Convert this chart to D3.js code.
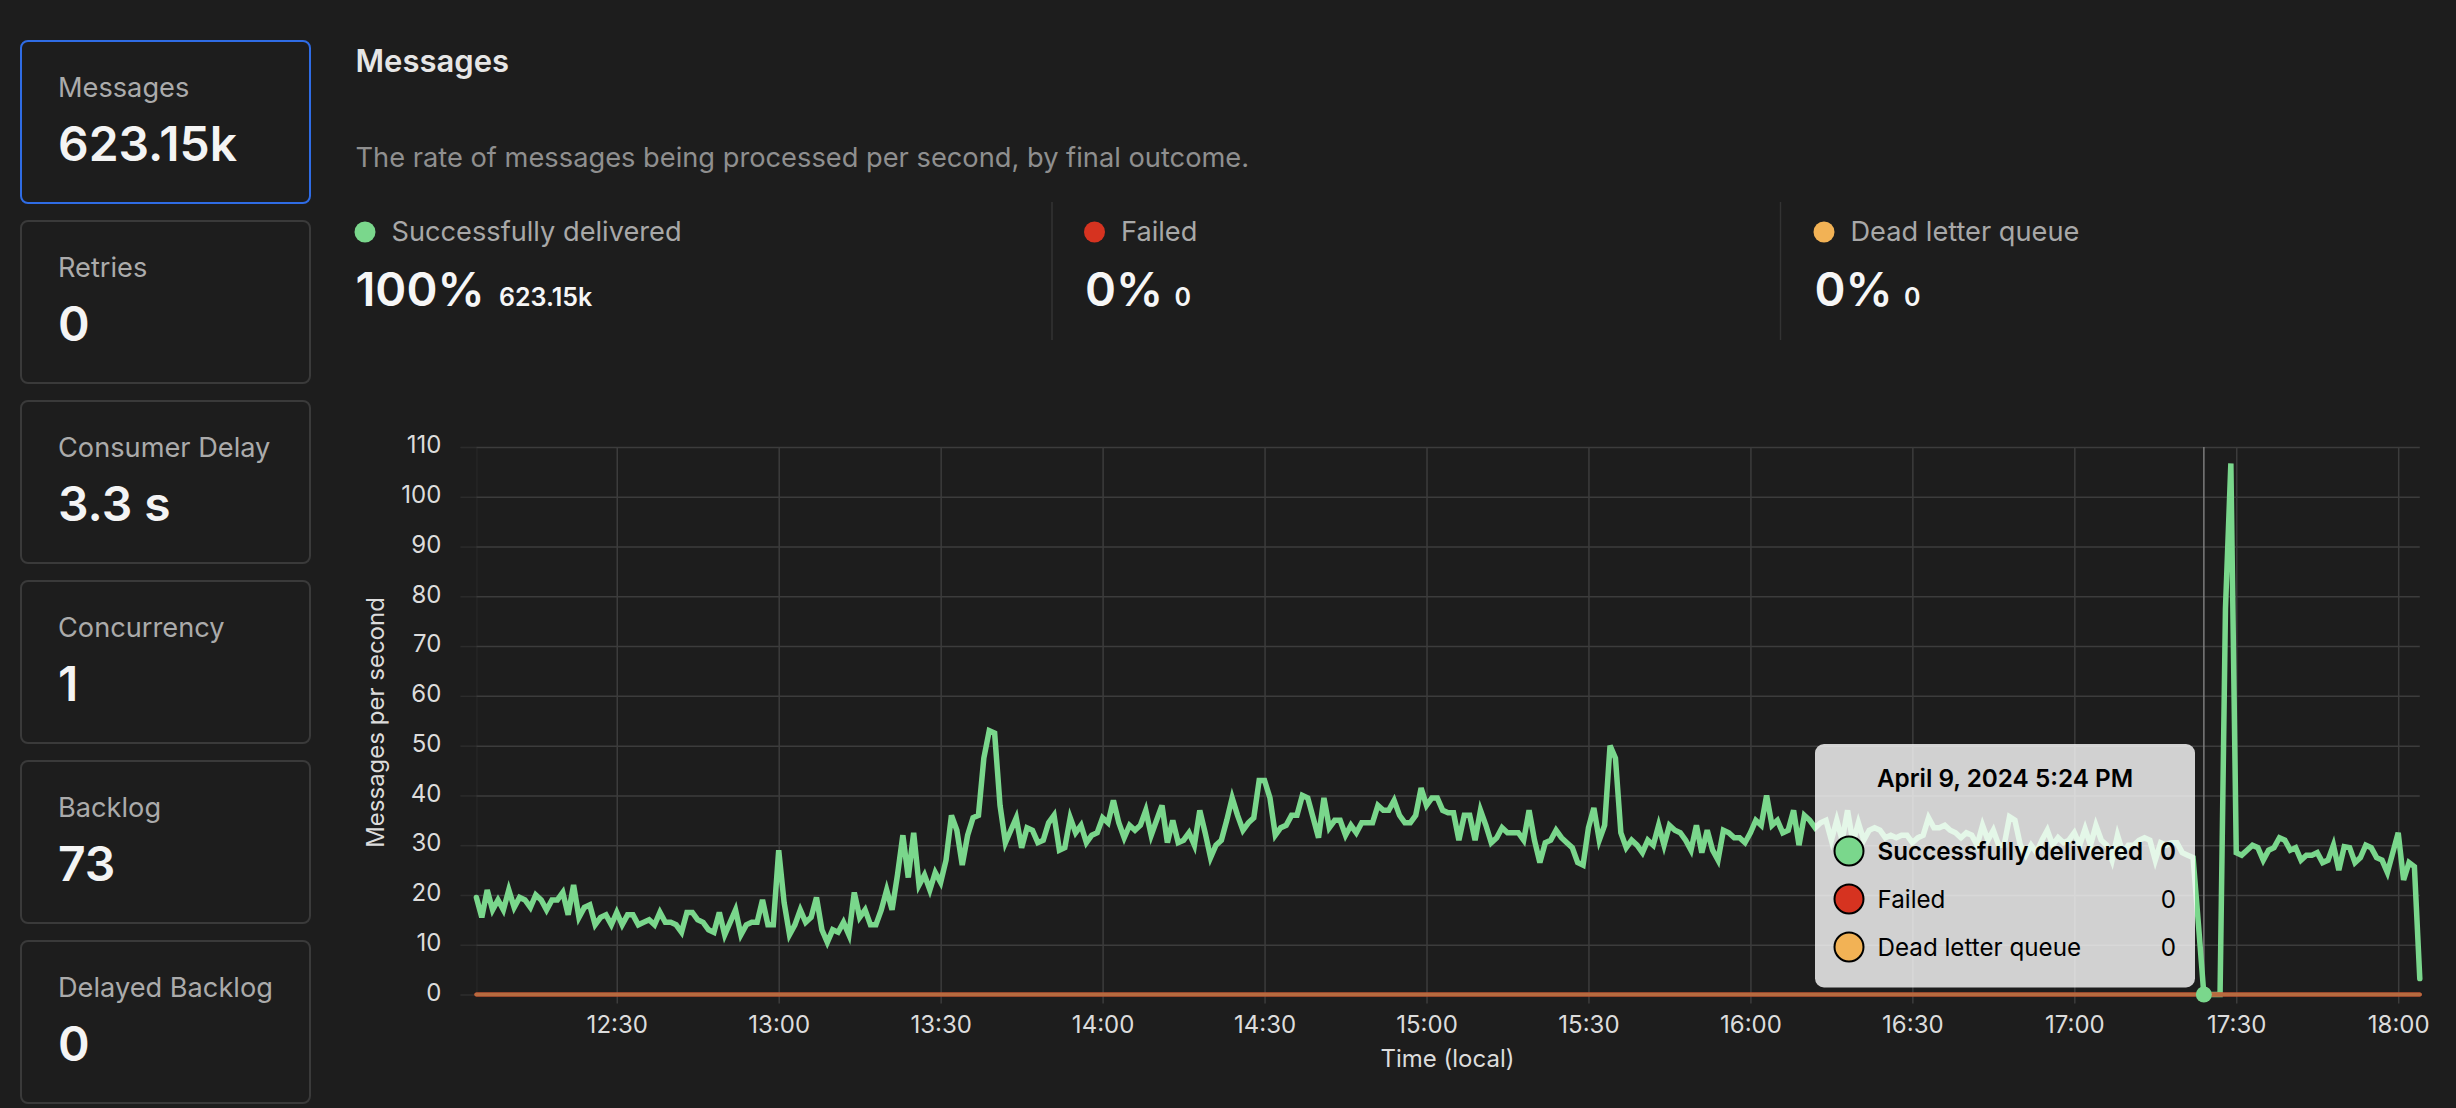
<!DOCTYPE html>
<html>
<head>
<meta charset="utf-8">
<title>Messages</title>
<script src="https://cdn.jsdelivr.net/npm/d3@7"></script>
<style>
  html, body { margin: 0; padding: 0; background: #1d1d1d; }
  svg { display: block; font-family: Inter, "Noto Sans", sans-serif; }
</style>
</head>
<body>
<div id="chart"></div>
<script>
var w = 2456,
    h = 1108;

var cardLabels = ["Messages", "Retries", "Consumer Delay", "Concurrency", "Backlog", "Delayed Backlog"];
var cardValues = ["623.15k", "0", "3.3 s", "1", "73", "0"];

var outcomeLabels = ["Successfully delivered", "Failed", "Dead letter queue"];
var outcomePercents = ["100%", "0%", "0%"];
var outcomeCounts = ["623.15k", "0", "0"];
var outcomeColors = ["#7ad78c", "#d63320", "#f2b255"];
var tooltipValues = ["0", "0", "0"];

var yTicks = [0, 10, 20, 30, 40, 50, 60, 70, 80, 90, 100, 110];

var startTime = new Date(2024, 3, 9, 12, 4),
    endTime = new Date(2024, 3, 9, 18, 4),
    hoverTime = new Date(2024, 3, 9, 17, 24);

// one reading per minute, starting at 12:04
var messageRates = [
  19.5,15.5,21,17,19,17,21,17.5,19.5,19,
  17.5,20,19,17,19,19,20.5,16,22,15.5,
  17.5,18,14,15.5,16,14,16.5,14,16,16,
  14,14.5,15,14,16.5,14.5,14.5,14,12.5,16.5,
  16.5,15,14.5,13,12.5,16.5,12,14.5,17,12,
  14,14.5,14.5,19,14,14,29,18.5,12,14,
  17,14.5,15.5,19.5,13,10.5,13,12.5,14.5,12,
  20.5,15.5,17,14,14,17,21,17,24,32,
  23.5,32.5,22,24,21,24.5,22.5,27,36,33,
  26,32,35.5,36,47.5,53,52.5,38,30.5,33,
  35.5,29.5,33.5,33,30.5,31,34.5,36,29,29.5,
  35.5,32.5,34,30.5,32,32.5,35.5,34.5,39,34.5,
  31.5,34,33,34,37,32,35,38,30.5,35,
  30.5,31,32.5,30,37,32.5,27.5,30,31,35,
  39.5,36,33,34.5,35.5,43,43,39.5,32,33.5,
  34,36,36,40,39.5,35.5,31.5,39.5,33.5,35,
  35,32,34,32.5,34.5,34.5,34.5,38,37,37,
  39,36,34.5,34.5,36,41.5,38,39.5,39.5,37,
  36.5,36.5,31,36,36,31,37,34,30.5,31.5,
  33.5,32.5,32.5,32.5,31,37,31,26.5,30.5,31,
  33,31.5,30.5,29.5,26.5,26,33.5,37.5,31,34,
  50,47.5,32.5,29.5,31,30,28.5,31,30,34,
  30,34,33,32.5,31,29,34,28.5,33,29,
  27,33,32.5,31.5,31.5,30.5,32.5,35,34,40,
  34,35,32.5,33,37,30,36,35,33.5,34.5,
  35,31,35,31,37,30.5,34.5,31,33,33.5,
  33,31.5,32,31.5,32,32,30.5,31.5,32,35.5,
  33.5,33.5,34,33,32.5,31.5,32.5,32,30,34,
  31,33,30,30,35.7,35,30,28,30,28.5,
  31,33,30,31.5,30.5,31,32.5,30,33.3,30,
  34,31,30,27,32,28.5,30,30,31,31.5,
  31,27,30.5,30,30.5,30.5,28.5,28,27.5,14,
  0,0,0,0,77.5,106.7,28.5,28,29,30,
  29.5,27,29,29.5,31.5,31,29,29.5,27,28,
  28,28.5,26.5,27,30,25,29.7,29.5,26.5,27.5,
  30,29.5,27.5,27,24.5,28.5,32.5,23,26.5,25.7,
  3.2
];

// failed and dead letter stay at zero the whole window
var flatTimes = [startTime, endTime];
var failedRates = [0, 0];
var deadLetterRates = [0, 0];

var svg = d3.select("#chart").append("svg")
  .attr("width", w)
  .attr("height", h);

// sidebar cards
var cards = svg.selectAll(".card")
  .data(cardLabels)
  .enter().append("g")
  .attr("class", "card")
  .attr("transform", function(d, i) { return "translate(21," + (41 + i * 180) + ")"; });

cards.append("rect")
  .attr("width", 289)
  .attr("height", 162)
  .attr("rx", 7)
  .attr("fill", "none")
  .attr("stroke", function(d, i) { return i === 0 ? "#2f6ce5" : "#3a3a3a"; })
  .attr("stroke-width", 2);

cards.append("text")
  .attr("x", 37)
  .attr("y", 56)
  .attr("fill", "#ababab")
  .attr("font-size", 27.2)
  .text(function(d) { return d; });

cards.append("text")
  .attr("x", 37)
  .attr("y", 119.5)
  .attr("fill", "#f4f4f4")
  .attr("font-size", 48)
  .attr("font-weight", 600)
  .text(function(d, i) { return cardValues[i]; });

// header
svg.append("text")
  .attr("x", 355.5).attr("y", 71.5)
  .attr("fill", "#e6e6e6")
  .attr("font-size", 31)
  .attr("font-weight", 600)
  .text("Messages");

svg.append("text")
  .attr("x", 355.5).attr("y", 167)
  .attr("fill", "#8f8f8f")
  .attr("font-size", 27.25)
  .text("The rate of messages being processed per second, by final outcome.");

// outcome summary
var outcomeX = [355.5, 1085, 1814.5];

var outcomes = svg.selectAll(".outcome")
  .data(outcomeLabels)
  .enter().append("g")
  .attr("class", "outcome")
  .attr("transform", function(d, i) { return "translate(" + outcomeX[i] + ",0)"; });

outcomes.append("circle")
  .attr("cx", 9.5)
  .attr("cy", 232)
  .attr("r", 10.5)
  .attr("fill", function(d, i) { return outcomeColors[i]; });

outcomes.append("text")
  .attr("x", 36)
  .attr("y", 241)
  .attr("fill", "#a8a8a8")
  .attr("font-size", 27.2)
  .text(function(d) { return d; });

outcomes.append("text")
  .attr("class", "pct")
  .attr("y", 306)
  .attr("fill", "#f6f6f6")
  .attr("font-size", 47)
  .attr("font-weight", 600)
  .text(function(d, i) { return outcomePercents[i]; });

outcomes.append("text")
  .attr("x", function(d, i) { return i === 0 ? 143.5 : 89.5; })
  .attr("y", 306)
  .attr("fill", "#f6f6f6")
  .attr("font-size", 25)
  .attr("font-weight", 600)
  .text(function(d, i) { return outcomeCounts[i]; });

svg.selectAll(".sep")
  .data([1052, 1780.5])
  .enter().append("line")
  .attr("class", "sep")
  .attr("x1", function(d) { return d; })
  .attr("x2", function(d) { return d; })
  .attr("y1", 202)
  .attr("y2", 340)
  .attr("stroke", "#333")
  .attr("stroke-width", 1.5);

// chart
var margin = {left: 476.4, right: 2419.8, top: 447, bottom: 994.5};

var x = d3.scaleTime()
  .domain([startTime, endTime])
  .range([margin.left, margin.right]);

var y = d3.scaleLinear()
  .domain([0, 110])
  .range([margin.bottom, margin.top]);

var xAxis = d3.axisBottom(x)
  .ticks(d3.timeMinute.every(30))
  .tickFormat(d3.timeFormat("%H:%M"))
  .tickSizeOuter(0);

var yAxis = d3.axisLeft(y)
  .tickValues(yTicks)
  .tickSizeOuter(0);

// faint stubs left of the plot, brighter gridlines inside it
svg.append("g")
  .attr("transform", "translate(" + margin.left + ",0)")
  .call(yAxis.tickSize(16).tickPadding(19))
  .call(function(g) {
    g.select(".domain").attr("stroke", "#252525").attr("stroke-width", 1.5);
    g.selectAll(".tick line").attr("stroke", "#2c2c2c").attr("stroke-width", 1.5);
    g.selectAll("text")
      .attr("font-family", "Inter")
      .attr("font-size", 24)
      .attr("fill", "#dcdcdc")
      .attr("dy", "0.24em");
  });

svg.append("g")
  .attr("transform", "translate(" + margin.left + ",0)")
  .call(d3.axisLeft(y).tickValues(yTicks).tickSize(margin.left - margin.right).tickFormat(""))
  .call(function(g) {
    g.select(".domain").remove();
    g.selectAll(".tick line").attr("stroke", "#3c3c3c").attr("stroke-width", 1.5);
  });

svg.append("g")
  .attr("transform", "translate(0," + margin.bottom + ")")
  .call(xAxis.tickSizeInner(9).tickPadding(12))
  .call(function(g) {
    g.select(".domain").remove();
    g.selectAll(".tick line").attr("stroke", "#3c3c3c").attr("stroke-width", 1.5);
    g.selectAll("text")
      .attr("font-family", "Inter")
      .attr("font-size", 24)
      .attr("fill", "#dcdcdc");
  });

svg.append("g")
  .attr("transform", "translate(0," + margin.bottom + ")")
  .call(d3.axisBottom(x).ticks(d3.timeMinute.every(30)).tickSize(margin.top - margin.bottom).tickFormat(""))
  .call(function(g) {
    g.select(".domain").remove();
    g.selectAll(".tick line").attr("stroke", "#3c3c3c").attr("stroke-width", 1.5);
  });

svg.append("text")
  .attr("x", 1447.5).attr("y", 1066.5)
  .attr("text-anchor", "middle")
  .attr("fill", "#dcdcdc")
  .attr("font-size", 24)
  .text("Time (local)");

svg.append("text")
  .attr("transform", "translate(384,722.5) rotate(-90)")
  .attr("text-anchor", "middle")
  .attr("fill", "#dcdcdc")
  .attr("font-size", 24)
  .text("Messages per second");

// hover crosshair
svg.append("line")
  .attr("x1", x(hoverTime)).attr("x2", x(hoverTime))
  .attr("y1", margin.top).attr("y2", margin.bottom)
  .attr("stroke", "#7c7c7c")
  .attr("stroke-width", 1.5);

var line = d3.line()
  .x(function(d) { return x(d.t); })
  .y(function(d) { return y(d.v); });

var rateSeries = messageRates.map(function(v, i) {
  return {t: d3.timeMinute.offset(startTime, i), v: v};
});

function flatSeries(values) {
  return values.map(function(v, i) { return {t: flatTimes[i], v: v}; });
}

svg.append("path")
  .attr("d", line(rateSeries))
  .attr("fill", "none")
  .attr("stroke", outcomeColors[0])
  .attr("stroke-width", 5.5)
  .attr("stroke-linejoin", "miter")
  .attr("stroke-miterlimit", 4)
  .attr("stroke-linecap", "round");

svg.append("path")
  .attr("d", line(flatSeries(failedRates)))
  .attr("fill", "none")
  .attr("stroke", outcomeColors[1])
  .attr("stroke-width", 4)
  .attr("stroke-linecap", "round");

svg.append("path")
  .attr("d", line(flatSeries(deadLetterRates)))
  .attr("fill", "none")
  .attr("stroke", "#b76b3f")
  .attr("stroke-width", 4)
  .attr("stroke-linecap", "round");

svg.append("circle")
  .attr("cx", x(hoverTime))
  .attr("cy", y(0))
  .attr("r", 8)
  .attr("fill", outcomeColors[0]);

// tooltip sits above the line and lets it show through
var tip = svg.append("g").attr("transform", "translate(1815,744)");

tip.append("rect")
  .attr("width", 380)
  .attr("height", 243.5)
  .attr("rx", 9)
  .attr("fill", "rgba(255,255,255,0.8)");

tip.append("text")
  .attr("x", 190).attr("y", 42.5)
  .attr("text-anchor", "middle")
  .attr("fill", "#000")
  .attr("font-size", 24.3)
  .attr("font-weight", 600)
  .text(d3.timeFormat("%B %-d, %Y %-I:%M %p")(hoverTime));

var tipRows = tip.selectAll(".row")
  .data(outcomeLabels)
  .enter().append("g")
  .attr("class", "row")
  .attr("transform", function(d, i) { return "translate(0," + (107 + i * 48) + ")"; });

tipRows.append("circle")
  .attr("cx", 34)
  .attr("r", 14.5)
  .attr("fill", function(d, i) { return outcomeColors[i]; })
  .attr("stroke", "#000")
  .attr("stroke-width", 2);

tipRows.append("text")
  .attr("x", 62.5)
  .attr("y", 8.5)
  .attr("fill", "#000")
  .attr("font-size", 24.2)
  .attr("font-weight", function(d, i) { return i === 0 ? 600 : 400; })
  .text(function(d) { return d; });

tipRows.append("text")
  .attr("x", 361)
  .attr("y", 8.5)
  .attr("text-anchor", "end")
  .attr("fill", "#000")
  .attr("font-size", 24.2)
  .attr("font-weight", function(d, i) { return i === 0 ? 600 : 400; })
  .text(function(d, i) { return tooltipValues[i]; });
</script>
</body>
</html>
